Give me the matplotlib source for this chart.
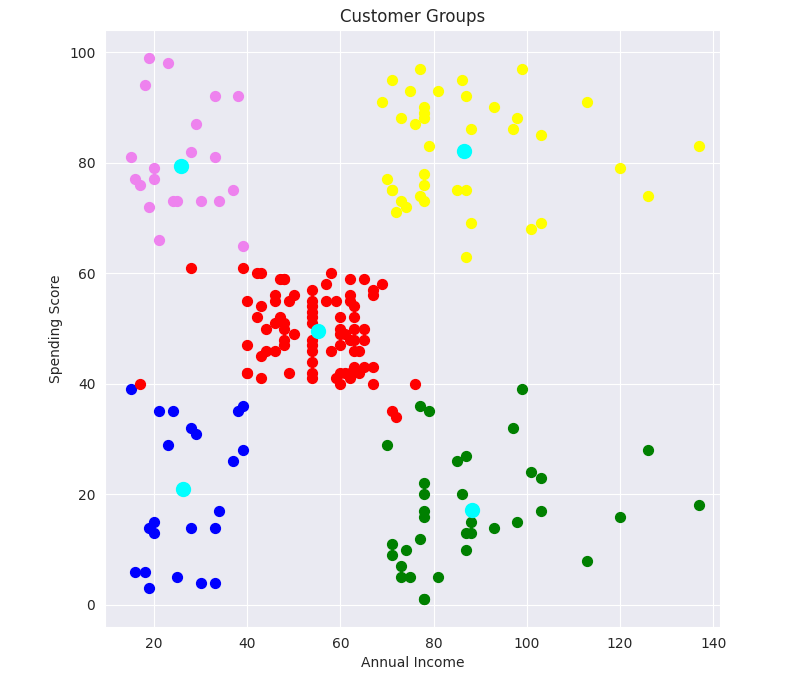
import matplotlib
matplotlib.use("Agg")
import matplotlib.pyplot as plt
import seaborn as sns
import numpy as np

income = [15,15,16,16,17,17,18,18,19,19,19,19,20,20,20,20,21,21,23,23,24,24,25,25,28,28,28,28,29,29,30,30,33,33,33,33,34,34,37,37,38,38,39,39,39,39,40,40,40,40,42,42,43,43,43,43,44,44,46,46,46,46,47,47,48,48,48,48,48,48,49,49,50,50,54,54,54,54,54,54,54,54,54,54,54,54,57,57,58,58,59,59,60,60,60,60,60,60,61,61,62,62,62,62,62,62,63,63,63,63,63,63,64,64,65,65,65,65,67,67,67,67,69,69,70,70,71,71,71,71,71,71,72,72,73,73,73,73,74,74,75,75,76,76,77,77,77,77,78,78,78,78,78,78,78,78,78,78,78,78,79,79,81,81,85,85,86,86,87,87,87,87,87,87,88,88,88,88,93,93,97,97,98,98,99,99,101,101,103,103,103,103,113,113,120,120,126,126,137,137]
score = [39,81,6,77,40,76,6,94,3,72,14,99,15,77,13,79,35,66,29,98,35,73,5,73,14,82,32,61,31,87,4,73,4,92,14,81,17,73,26,75,35,92,36,61,28,65,55,47,42,42,52,60,54,60,45,41,50,46,51,46,56,55,52,59,51,59,50,48,59,47,55,42,49,56,47,54,53,48,52,42,51,55,41,44,57,46,58,55,60,46,55,41,49,40,42,52,47,50,42,49,41,48,59,55,56,42,50,46,43,48,52,54,42,46,48,50,43,59,43,57,56,40,58,91,29,77,35,95,11,75,9,75,34,71,5,88,7,73,10,72,5,93,40,87,12,97,36,74,22,90,17,88,20,76,16,89,1,78,1,73,35,83,5,93,26,75,20,95,27,63,13,75,10,92,13,86,15,69,14,90,32,86,15,88,39,97,24,68,17,85,23,69,8,91,16,79,28,74,18,83]
center_income = [25.7, 26.3, 55.3, 86.5, 88.2]
center_score = [79.4, 20.9, 49.5, 82.1, 17.1]
cluster_colors = ['violet', 'blue', 'red', 'yellow', 'green']

def cluster(x, y):
    if x <= 39 and y > 61: return 0
    if x <= 39 and y < 40: return 1
    if x >= 69 and y >= 63: return 3
    if x >= 70 and y < 40 and not ((x, y) in [(71, 35), (72, 34)]): return 4
    return 2

labels = np.array([cluster(x, y) for x, y in zip(income, score)])
income = np.array(income); score = np.array(score)

sns.set_style("darkgrid")
fig = plt.figure(figsize=(8.02, 6.96), dpi=100)
ax = fig.add_axes([0.131, 0.099, 0.767, 0.858])
for k, c in enumerate(cluster_colors):
    m = labels == k
    ax.scatter(income[m], score[m], s=50, c=c)
ax.scatter(center_income, center_score, s=100, c='cyan')
ax.set_xlim(9.5, 141.5)
ax.set_ylim(-4, 104)
ax.set_title("Customer Groups")
ax.set_xlabel("Annual Income")
ax.set_ylabel("Spending Score")
fig.savefig("out.png", dpi=100)
